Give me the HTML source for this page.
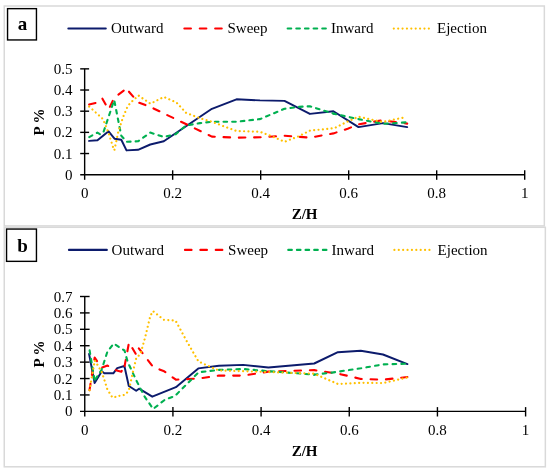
<!DOCTYPE html>
<html><head><meta charset="utf-8"><title>Quadrant probability</title>
<style>
html,body{margin:0;padding:0;background:#fff;}
svg{display:block;}
.t{font-family:"Liberation Serif",serif;font-size:15px;fill:#000;}
.b{font-family:"Liberation Serif",serif;font-size:15px;font-weight:bold;fill:#000;}
.L{font-family:"Liberation Serif",serif;font-size:19px;font-weight:bold;fill:#000;}
.ax{stroke:#000;stroke-width:1.4;fill:none;}
</style></head><body>
<svg width="550" height="473" viewBox="0 0 550 473">
<rect x="0" y="0" width="550" height="473" fill="#fff"/>
<rect x="4.25" y="6" width="540.1" height="219.9" fill="#fff" stroke="#D9D9D9" stroke-width="1.5"/>
<rect x="4.25" y="227.3" width="541.1" height="239.5" fill="#fff" stroke="#D9D9D9" stroke-width="1.5"/>
<rect x="7.55" y="8.65" width="28.9" height="31.3" fill="#fff" stroke="#000" stroke-width="1.4"/>
<text x="22.5" y="30.3" class="L" text-anchor="middle">a</text>
<rect x="6.55" y="229.05" width="29.9" height="32.3" fill="#fff" stroke="#000" stroke-width="1.4"/>
<text x="22.5" y="252" class="L" text-anchor="middle">b</text>
<line x1="68.35" y1="28.55" x2="105.75" y2="28.55" stroke="#0C1B6C" stroke-width="2.1" stroke-linecap="round"/>
<text x="111.00" y="32.9" class="t">Outward</text>
<line x1="184.35" y1="28.55" x2="221.75" y2="28.55" stroke="#FF0000" stroke-width="2.1" stroke-linecap="round" stroke-dasharray="6.6 8.8"/>
<text x="227.50" y="32.9" class="t">Sweep</text>
<line x1="287.65" y1="28.55" x2="325.90" y2="28.55" stroke="#00B050" stroke-width="2.1" stroke-linecap="round" stroke-dasharray="3.6 5.05"/>
<text x="331.00" y="32.9" class="t">Inward</text>
<line x1="393.80" y1="28.55" x2="429.20" y2="28.55" stroke="#FFC000" stroke-width="2.2" stroke-linecap="round" stroke-dasharray="0.01 4.37"/>
<text x="437.00" y="32.9" class="t">Ejection</text>

<line x1="68.95" y1="249.9" x2="106.85" y2="249.9" stroke="#0C1B6C" stroke-width="2.1" stroke-linecap="round"/>
<text x="111.60" y="254.5" class="t">Outward</text>
<line x1="184.95" y1="249.9" x2="222.35" y2="249.9" stroke="#FF0000" stroke-width="2.1" stroke-linecap="round" stroke-dasharray="6.6 8.8"/>
<text x="228.10" y="254.5" class="t">Sweep</text>
<line x1="288.25" y1="249.9" x2="326.50" y2="249.9" stroke="#00B050" stroke-width="2.1" stroke-linecap="round" stroke-dasharray="3.6 5.05"/>
<text x="331.60" y="254.5" class="t">Inward</text>
<line x1="394.40" y1="249.9" x2="429.80" y2="249.9" stroke="#FFC000" stroke-width="2.2" stroke-linecap="round" stroke-dasharray="0.01 4.37"/>
<text x="437.60" y="254.5" class="t">Ejection</text>

<line x1="84.65" y1="68.85" x2="84.65" y2="179.79999999999998" class="ax"/>
<line x1="80.2" y1="174.7" x2="524.7" y2="174.7" class="ax"/>
<text x="72.4" y="179.70" class="t" text-anchor="end">0</text>
<line x1="80.2" y1="153.53" x2="89.10000000000001" y2="153.53" class="ax"/>
<text x="72.4" y="158.53" class="t" text-anchor="end">0.1</text>
<line x1="80.2" y1="132.36" x2="89.10000000000001" y2="132.36" class="ax"/>
<text x="72.4" y="137.36" class="t" text-anchor="end">0.2</text>
<line x1="80.2" y1="111.19" x2="89.10000000000001" y2="111.19" class="ax"/>
<text x="72.4" y="116.19" class="t" text-anchor="end">0.3</text>
<line x1="80.2" y1="90.02" x2="89.10000000000001" y2="90.02" class="ax"/>
<text x="72.4" y="95.02" class="t" text-anchor="end">0.4</text>
<line x1="80.2" y1="68.85" x2="89.10000000000001" y2="68.85" class="ax"/>
<text x="72.4" y="73.85" class="t" text-anchor="end">0.5</text>
<text x="84.65" y="197.90" class="t" text-anchor="middle">0</text>
<line x1="172.66" y1="170.29999999999998" x2="172.66" y2="179.79999999999998" class="ax"/>
<text x="172.66" y="197.90" class="t" text-anchor="middle">0.2</text>
<line x1="260.67" y1="170.29999999999998" x2="260.67" y2="179.79999999999998" class="ax"/>
<text x="260.67" y="197.90" class="t" text-anchor="middle">0.4</text>
<line x1="348.68" y1="170.29999999999998" x2="348.68" y2="179.79999999999998" class="ax"/>
<text x="348.68" y="197.90" class="t" text-anchor="middle">0.6</text>
<line x1="436.69" y1="170.29999999999998" x2="436.69" y2="179.79999999999998" class="ax"/>
<text x="436.69" y="197.90" class="t" text-anchor="middle">0.8</text>
<line x1="524.70" y1="170.29999999999998" x2="524.70" y2="179.79999999999998" class="ax"/>
<text x="524.70" y="197.90" class="t" text-anchor="middle">1</text>

<line x1="84.75" y1="296.5" x2="84.75" y2="416.5" class="ax"/>
<line x1="80.0" y1="411.35" x2="525.6" y2="411.35" class="ax"/>
<text x="72.4" y="416.35" class="t" text-anchor="end">0</text>
<line x1="80.0" y1="394.94" x2="89.6" y2="394.94" class="ax"/>
<text x="72.4" y="399.94" class="t" text-anchor="end">0.1</text>
<line x1="80.0" y1="378.54" x2="89.6" y2="378.54" class="ax"/>
<text x="72.4" y="383.54" class="t" text-anchor="end">0.2</text>
<line x1="80.0" y1="362.13" x2="89.6" y2="362.13" class="ax"/>
<text x="72.4" y="367.13" class="t" text-anchor="end">0.3</text>
<line x1="80.0" y1="345.72" x2="89.6" y2="345.72" class="ax"/>
<text x="72.4" y="350.72" class="t" text-anchor="end">0.4</text>
<line x1="80.0" y1="329.31" x2="89.6" y2="329.31" class="ax"/>
<text x="72.4" y="334.31" class="t" text-anchor="end">0.5</text>
<line x1="80.0" y1="312.91" x2="89.6" y2="312.91" class="ax"/>
<text x="72.4" y="317.91" class="t" text-anchor="end">0.6</text>
<line x1="80.0" y1="296.50" x2="89.6" y2="296.50" class="ax"/>
<text x="72.4" y="301.50" class="t" text-anchor="end">0.7</text>
<text x="84.75" y="434.75" class="t" text-anchor="middle">0</text>
<line x1="172.92" y1="407.1" x2="172.92" y2="416.5" class="ax"/>
<text x="172.92" y="434.75" class="t" text-anchor="middle">0.2</text>
<line x1="261.09" y1="407.1" x2="261.09" y2="416.5" class="ax"/>
<text x="261.09" y="434.75" class="t" text-anchor="middle">0.4</text>
<line x1="349.26" y1="407.1" x2="349.26" y2="416.5" class="ax"/>
<text x="349.26" y="434.75" class="t" text-anchor="middle">0.6</text>
<line x1="437.43" y1="407.1" x2="437.43" y2="416.5" class="ax"/>
<text x="437.43" y="434.75" class="t" text-anchor="middle">0.8</text>
<line x1="525.60" y1="407.1" x2="525.60" y2="416.5" class="ax"/>
<text x="525.60" y="434.75" class="t" text-anchor="middle">1</text>

<text transform="translate(44.2,122) rotate(-90)" class="b" text-anchor="middle">P %</text>
<text transform="translate(44.2,354) rotate(-90)" class="b" text-anchor="middle">P %</text>
<text x="304.6" y="219" class="b" text-anchor="middle">Z/H</text>
<text x="304.6" y="456" class="b" text-anchor="middle">Z/H</text>
<polyline points="89.1,140.9 97.5,140.2 108.6,131.3 114.5,138.7 121.3,139.8 126.5,150.4 138.0,149.8 150.3,144.5 163.8,141.3 186.0,126.3 211.9,108.8 236.5,99.3 260.0,100.4 284.5,100.9 309.9,113.9 333.4,111.2 358.5,127.1 383.0,123.1 407.2,127.1" fill="none" stroke="#0C1B6C" stroke-width="1.95" stroke-linecap="round" stroke-linejoin="round"/>
<polyline points="89.1,104.6 97.5,102.5 102.2,98.3 108.6,109.5 114.3,97.5 126.4,88.7" fill="none" stroke="#FF0000" stroke-width="2.1" stroke-linecap="round" stroke-linejoin="round" stroke-dasharray="6.6 8.8"/>
<polyline points="126.4,88.7 138.0,102.3 150.3,106.9 211.9,136.6 236.5,137.7 260.0,137.3 284.5,135.8 309.9,137.6 333.4,133.4 347.7,128.7 358.5,124.4 381.5,120.3 407.2,123.6" fill="none" stroke="#FF0000" stroke-width="2.1" stroke-linecap="round" stroke-linejoin="round" stroke-dasharray="6.55 8.75" stroke-dashoffset="11.36"/>
<polyline points="89.2,137.1 97.4,132.6 102.3,135.6" fill="none" stroke="#00B050" stroke-width="2.1" stroke-linecap="round" stroke-linejoin="round" stroke-dasharray="3.6 5.05"/>
<polyline points="102.3,135.6 114.2,100.1 121.3,135.8 126.9,141.8 138.0,141.3 150.3,132.6 163.8,137.0 175.7,134.2 186.0,125.5 200.0,123.1 211.9,121.8 236.5,121.8 260.0,119.1 284.5,108.8 298.0,106.9 309.9,106.3 333.4,113.6" fill="none" stroke="#00B050" stroke-width="2.1" stroke-linecap="round" stroke-linejoin="round" stroke-dasharray="3.6 5.05" stroke-dashoffset="4.37"/>
<polyline points="333.4,113.6 358.5,119.1 383.0,123.8 407.2,122.3" fill="none" stroke="#00B050" stroke-width="2.1" stroke-linecap="round" stroke-linejoin="round" stroke-dasharray="3.65 5.16" stroke-dashoffset="0.91"/>
<polyline points="89.2,106.6 103.0,119.1 108.6,133.0 114.2,150.9" fill="none" stroke="#FFC000" stroke-width="2.2" stroke-linecap="round" stroke-linejoin="round" stroke-dasharray="0.01 4.37"/>
<polyline points="114.2,150.9 118.1,132.6 122.9,117.5 128.0,105.6 133.2,100.2 138.5,95.5 150.4,103.7 163.8,96.9 176.5,102.5 186.0,112.8 200.0,118.3 211.9,121.8 223.8,126.3 236.5,131.0 260.0,131.8 272.6,136.6 284.5,141.8 298.0,136.6 309.9,130.6 334.2,128.2 347.7,121.5 358.5,116.7 364.3,118.0 382.5,122.0 404.6,117.4" fill="none" stroke="#FFC000" stroke-width="2.2" stroke-linecap="round" stroke-linejoin="round" stroke-dasharray="0.01 4.37" stroke-dashoffset="3.2"/>

<polyline points="89.1,354.0 94.6,383.0 101.8,371.3 104.3,373.2 113.3,373.3 117.2,368.1 124.4,366.0 128.8,386.0 136.2,390.8 139.1,388.7 152.3,396.7 175.9,387.2 198.3,368.4 218.9,365.7 243.1,364.9 268.4,367.5 314.2,363.5 337.9,352.2 360.8,350.7 383.0,354.5 407.4,364.1" fill="none" stroke="#0C1B6C" stroke-width="1.95" stroke-linecap="round" stroke-linejoin="round"/>
<polyline points="89.5,390.2 94.7,357.5 101.5,367.8 107.5,365.5 113.5,369.5 121.3,371.7 124.6,366.0" fill="none" stroke="#FF0000" stroke-width="2.1" stroke-linecap="round" stroke-linejoin="round" stroke-dasharray="6.6 8.8"/>
<polyline points="124.6,366.0 129.0,342.5 135.8,354.0 138.8,348.3" fill="none" stroke="#FF0000" stroke-width="2.1" stroke-linecap="round" stroke-linejoin="round" stroke-dasharray="6.6 8.8" stroke-dashoffset="0.4"/>
<polyline points="138.8,348.3 153.0,366.8 164.2,371.3 175.9,379.7 198.5,378.5 218.9,375.6 243.1,375.6 268.4,371.6 314.2,370.1 337.9,373.6 360.8,378.9 383.0,379.7 407.4,377.0" fill="none" stroke="#FF0000" stroke-width="2.1" stroke-linecap="round" stroke-linejoin="round" stroke-dasharray="6.6 8.8" stroke-dashoffset="0.5"/>
<polyline points="89.6,350.3 94.6,380.5" fill="none" stroke="#00B050" stroke-width="2.1" stroke-linecap="round" stroke-linejoin="round" stroke-dasharray="3.6 5.05"/>
<polyline points="94.6,380.5 101.5,370.0 107.3,352.0 113.6,343.5 124.5,350.5 127.7,362.0 136.4,380.5 144.0,395.6 153.1,409.0 164.8,399.8 174.9,396.0 198.7,372.2 218.9,369.9 243.1,369.0 268.4,371.2 314.2,374.6" fill="none" stroke="#00B050" stroke-width="2.1" stroke-linecap="round" stroke-linejoin="round" stroke-dasharray="3.6 5.05" stroke-dashoffset="7.3"/>
<polyline points="314.2,374.6 332.0,372.6 360.8,368.3 383.0,364.4 407.4,363.7" fill="none" stroke="#00B050" stroke-width="2.1" stroke-linecap="round" stroke-linejoin="round" stroke-dasharray="3.65 5.17" stroke-dashoffset="0.25"/>
<polyline points="89.5,390.2 94.8,360.5 101.8,372.0 107.3,389.2 111.3,396.0 113.6,397.8 117.3,395.8 121.3,395.8 125.6,394.4 128.8,390.5 132.5,373.7 136.3,357.8 140.4,354.2 145.1,337.5 150.3,315.9 153.0,311.1 163.8,319.8 175.5,320.5 186.8,341.3 198.5,361.5 208.7,366.1 218.9,370.5 243.1,371.2 268.4,372.0 314.2,373.7 337.9,384.0 360.8,382.8 383.0,383.1 407.4,377.4" fill="none" stroke="#FFC000" stroke-width="2.2" stroke-linecap="round" stroke-linejoin="round" stroke-dasharray="0.01 4.37"/>

</svg>
</body></html>
